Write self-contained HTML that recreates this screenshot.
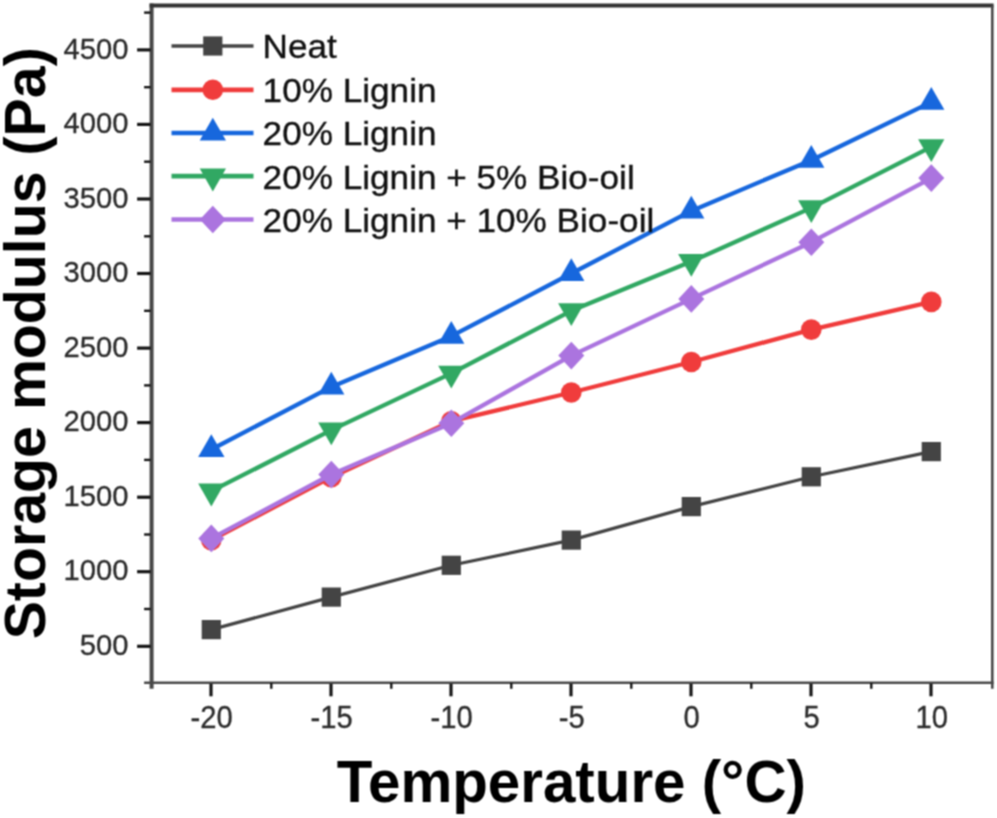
<!DOCTYPE html>
<html lang="en"><head><meta charset="utf-8"><title>Storage modulus vs temperature</title>
<style>html,body{margin:0;padding:0;background:#fff}body{width:997px;height:818px;overflow:hidden}svg{display:block}text{font-family:"Liberation Sans",Arial,Helvetica,sans-serif}.tk{font-size:29.2px;fill:#2b2b2b;stroke:#2b2b2b;stroke-width:.3px}.lg{font-size:33.6px;fill:#111;stroke:#111;stroke-width:.35px}.ti{font-size:58px;font-weight:bold;fill:#000}</style></head><body>
<svg width="997" height="818" viewBox="0 0 997 818">
<defs><filter id="soft" x="-20" y="-20" width="1037" height="858" filterUnits="userSpaceOnUse" color-interpolation-filters="sRGB"><feConvolveMatrix order="3" kernelMatrix="1 2 1 2 4 2 1 2 1" divisor="16" edgeMode="duplicate" preserveAlpha="true"/></filter></defs>
<g filter="url(#soft)">
<rect x="-20" y="-20" width="1037" height="858" fill="#fff"/>
<g stroke="#484848" fill="none" stroke-linecap="butt">
<line x1="151.6" y1="3.5999999999999996" x2="151.6" y2="688.8" stroke-width="4"/>
<line x1="144.1" y1="682.8" x2="993.5999999999999" y2="682.8" stroke-width="2.6"/>
<line x1="149.6" y1="5.6" x2="993.5999999999999" y2="5.6" stroke-width="4" stroke="#343434"/>
<line x1="992.3" y1="5.6" x2="992.3" y2="688.8" stroke-width="2.6"/>
<line x1="137.1" y1="646.3" x2="150.6" y2="646.3" stroke-width="3.2" stroke="#151515"/>
<line x1="137.1" y1="571.7" x2="150.6" y2="571.7" stroke-width="3.2" stroke="#151515"/>
<line x1="137.1" y1="497.2" x2="150.6" y2="497.2" stroke-width="3.2" stroke="#151515"/>
<line x1="137.1" y1="422.6" x2="150.6" y2="422.6" stroke-width="3.2" stroke="#151515"/>
<line x1="137.1" y1="348.1" x2="150.6" y2="348.1" stroke-width="3.2" stroke="#151515"/>
<line x1="137.1" y1="273.5" x2="150.6" y2="273.5" stroke-width="3.2" stroke="#151515"/>
<line x1="137.1" y1="199.0" x2="150.6" y2="199.0" stroke-width="3.2" stroke="#151515"/>
<line x1="137.1" y1="124.4" x2="150.6" y2="124.4" stroke-width="3.2" stroke="#151515"/>
<line x1="137.1" y1="49.9" x2="150.6" y2="49.9" stroke-width="3.2" stroke="#151515"/>
<line x1="144.1" y1="609.0" x2="150.6" y2="609.0" stroke-width="2.4" stroke="#151515"/>
<line x1="144.1" y1="534.5" x2="150.6" y2="534.5" stroke-width="2.4" stroke="#151515"/>
<line x1="144.1" y1="459.9" x2="150.6" y2="459.9" stroke-width="2.4" stroke="#151515"/>
<line x1="144.1" y1="385.4" x2="150.6" y2="385.4" stroke-width="2.4" stroke="#151515"/>
<line x1="144.1" y1="310.8" x2="150.6" y2="310.8" stroke-width="2.4" stroke="#151515"/>
<line x1="144.1" y1="236.3" x2="150.6" y2="236.3" stroke-width="2.4" stroke="#151515"/>
<line x1="144.1" y1="161.7" x2="150.6" y2="161.7" stroke-width="2.4" stroke="#151515"/>
<line x1="144.1" y1="87.2" x2="150.6" y2="87.2" stroke-width="2.4" stroke="#151515"/>
<line x1="144.1" y1="12.6" x2="150.6" y2="12.6" stroke-width="2.4" stroke="#151515"/>
<line x1="211.0" y1="683.8" x2="211.0" y2="696.3" stroke-width="3.2" stroke="#151515"/>
<line x1="331.0" y1="683.8" x2="331.0" y2="696.3" stroke-width="3.2" stroke="#151515"/>
<line x1="451.0" y1="683.8" x2="451.0" y2="696.3" stroke-width="3.2" stroke="#151515"/>
<line x1="571.0" y1="683.8" x2="571.0" y2="696.3" stroke-width="3.2" stroke="#151515"/>
<line x1="691.0" y1="683.8" x2="691.0" y2="696.3" stroke-width="3.2" stroke="#151515"/>
<line x1="811.0" y1="683.8" x2="811.0" y2="696.3" stroke-width="3.2" stroke="#151515"/>
<line x1="931.0" y1="683.8" x2="931.0" y2="696.3" stroke-width="3.2" stroke="#151515"/>
<line x1="271.3" y1="682.8" x2="271.3" y2="688.8" stroke-width="2.4" stroke="#151515"/>
<line x1="391.3" y1="682.8" x2="391.3" y2="688.8" stroke-width="2.4" stroke="#151515"/>
<line x1="511.3" y1="682.8" x2="511.3" y2="688.8" stroke-width="2.4" stroke="#151515"/>
<line x1="631.3" y1="682.8" x2="631.3" y2="688.8" stroke-width="2.4" stroke="#151515"/>
<line x1="751.3" y1="682.8" x2="751.3" y2="688.8" stroke-width="2.4" stroke="#151515"/>
<line x1="871.3" y1="682.8" x2="871.3" y2="688.8" stroke-width="2.4" stroke="#151515"/>
</g>
<g class="tk" text-anchor="end">
<text x="128.4" y="654.9">500</text>
<text x="128.4" y="580.3">1000</text>
<text x="128.4" y="505.8">1500</text>
<text x="128.4" y="431.2">2000</text>
<text x="128.4" y="356.7">2500</text>
<text x="128.4" y="282.1">3000</text>
<text x="128.4" y="207.6">3500</text>
<text x="128.4" y="133.0">4000</text>
<text x="128.4" y="58.5">4500</text>
</g>
<g class="tk" text-anchor="middle">
<text transform="translate(211.7 728.2) scale(1 1.09)">-20</text>
<text transform="translate(331.7 728.2) scale(1 1.09)">-15</text>
<text transform="translate(451.7 728.2) scale(1 1.09)">-10</text>
<text transform="translate(571.7 728.2) scale(1 1.09)">-5</text>
<text transform="translate(691.7 728.2) scale(1 1.09)">0</text>
<text transform="translate(811.7 728.2) scale(1 1.09)">5</text>
<text transform="translate(931.7 728.2) scale(1 1.09)">10</text>
</g>
<polyline points="211.3,629.6 331.3,597.1 451.3,565.3 571.3,540.1 691.3,506.6 811.3,476.8 931.3,451.6" fill="none" stroke="#444444" stroke-width="3.2" stroke-linejoin="round"/>
<rect x="201.7" y="620.0" width="19.2" height="19.2" fill="#444444"/>
<rect x="321.7" y="587.5" width="19.2" height="19.2" fill="#444444"/>
<rect x="441.7" y="555.7" width="19.2" height="19.2" fill="#444444"/>
<rect x="561.7" y="530.5" width="19.2" height="19.2" fill="#444444"/>
<rect x="681.7" y="497.0" width="19.2" height="19.2" fill="#444444"/>
<rect x="801.7" y="467.2" width="19.2" height="19.2" fill="#444444"/>
<rect x="921.7" y="442.0" width="19.2" height="19.2" fill="#444444"/>
<polyline points="211.3,540.1 331.3,477.2 451.3,421.2 571.3,392.5 691.3,362.0 811.3,329.6 931.3,301.9" fill="none" stroke="#F03C3C" stroke-width="4.3" stroke-linejoin="round"/>
<circle cx="211.3" cy="540.1" r="10.3" fill="#F03C3C"/>
<circle cx="331.3" cy="477.2" r="10.3" fill="#F03C3C"/>
<circle cx="451.3" cy="421.2" r="10.3" fill="#F03C3C"/>
<circle cx="571.3" cy="392.5" r="10.3" fill="#F03C3C"/>
<circle cx="691.3" cy="362.0" r="10.3" fill="#F03C3C"/>
<circle cx="811.3" cy="329.6" r="10.3" fill="#F03C3C"/>
<circle cx="931.3" cy="301.9" r="10.3" fill="#F03C3C"/>
<polyline points="211.3,449.5 331.3,386.9 451.3,336.2 571.3,273.5 691.3,210.9 811.3,160.2 931.3,102.1" fill="none" stroke="#1767DD" stroke-width="4.3" stroke-linejoin="round"/>
<polygon points="211.3,434.3 224.5,457.1 198.2,457.1" fill="#1767DD"/>
<polygon points="331.3,371.7 344.4,394.5 318.2,394.5" fill="#1767DD"/>
<polygon points="451.3,321.0 464.4,343.8 438.2,343.8" fill="#1767DD"/>
<polygon points="571.3,258.3 584.4,281.1 558.1,281.1" fill="#1767DD"/>
<polygon points="691.3,195.7 704.4,218.5 678.1,218.5" fill="#1767DD"/>
<polygon points="811.3,145.0 824.4,167.8 798.1,167.8" fill="#1767DD"/>
<polygon points="931.3,86.9 944.4,109.7 918.1,109.7" fill="#1767DD"/>
<polyline points="211.3,491.2 331.3,430.1 451.3,373.4 571.3,310.8 691.3,261.6 811.3,207.9 931.3,146.8" fill="none" stroke="#31A863" stroke-width="4.3" stroke-linejoin="round"/>
<polygon points="211.3,506.4 224.5,483.6 198.2,483.6" fill="#31A863"/>
<polygon points="331.3,445.3 344.4,422.5 318.2,422.5" fill="#31A863"/>
<polygon points="451.3,388.6 464.4,365.8 438.2,365.8" fill="#31A863"/>
<polygon points="571.3,326.0 584.4,303.2 558.1,303.2" fill="#31A863"/>
<polygon points="691.3,276.8 704.4,254.0 678.1,254.0" fill="#31A863"/>
<polygon points="811.3,223.1 824.4,200.3 798.1,200.3" fill="#31A863"/>
<polygon points="931.3,162.0 944.4,139.2 918.1,139.2" fill="#31A863"/>
<polyline points="211.3,538.4 331.3,474.5 451.3,423.2 571.3,355.6 691.3,298.9 811.3,242.2 931.3,178.1" fill="none" stroke="#AB74DF" stroke-width="4.3" stroke-linejoin="round"/>
<polygon points="211.3,524.6 224.3,538.4 211.3,552.2 198.3,538.4" fill="#AB74DF"/>
<polygon points="331.3,460.7 344.3,474.5 331.3,488.3 318.3,474.5" fill="#AB74DF"/>
<polygon points="451.3,409.4 464.3,423.2 451.3,437.0 438.3,423.2" fill="#AB74DF"/>
<polygon points="571.3,341.8 584.3,355.6 571.3,369.4 558.3,355.6" fill="#AB74DF"/>
<polygon points="691.3,285.1 704.3,298.9 691.3,312.7 678.3,298.9" fill="#AB74DF"/>
<polygon points="811.3,228.4 824.3,242.2 811.3,256.0 798.3,242.2" fill="#AB74DF"/>
<polygon points="931.3,164.3 944.3,178.1 931.3,191.9 918.3,178.1" fill="#AB74DF"/>
<line x1="171.5" y1="46.0" x2="253.5" y2="46.0" stroke="#444444" stroke-width="3.6"/>
<rect x="203.2" y="36.4" width="19.2" height="19.2" fill="#444444"/>
<text class="lg" transform="translate(262.6 58.4) scale(1.046 1)">Neat</text>
<line x1="171.5" y1="89.8" x2="253.5" y2="89.8" stroke="#F03C3C" stroke-width="4.7"/>
<circle cx="212.8" cy="89.8" r="10.3" fill="#F03C3C"/>
<text class="lg" transform="translate(262.6 102.2) scale(1.046 1)">10% Lignin</text>
<line x1="171.5" y1="133.0" x2="253.5" y2="133.0" stroke="#1767DD" stroke-width="4.7"/>
<polygon points="212.8,117.8 226.0,140.6 199.7,140.6" fill="#1767DD"/>
<text class="lg" transform="translate(262.6 145.4) scale(1.046 1)">20% Lignin</text>
<line x1="171.5" y1="176.2" x2="253.5" y2="176.2" stroke="#31A863" stroke-width="4.7"/>
<polygon points="212.8,191.4 226.0,168.6 199.7,168.6" fill="#31A863"/>
<text class="lg" transform="translate(262.6 188.6) scale(1.046 1)">20% Lignin + 5% Bio-oil</text>
<line x1="171.5" y1="219.5" x2="253.5" y2="219.5" stroke="#AB74DF" stroke-width="4.7"/>
<polygon points="212.8,205.7 225.8,219.5 212.8,233.3 199.8,219.5" fill="#AB74DF"/>
<text class="lg" transform="translate(262.6 231.9) scale(1.046 1)">20% Lignin + 10% Bio-oil</text>
<text class="ti" style="font-size:58.3px" text-anchor="middle" x="571.3" y="801.6">Temperature (°C)</text>
<text class="ti" style="font-size:57.3px" text-anchor="middle" transform="translate(44.6 343.3) rotate(-90)">Storage modulus (Pa)</text>
</g></svg></body></html>
